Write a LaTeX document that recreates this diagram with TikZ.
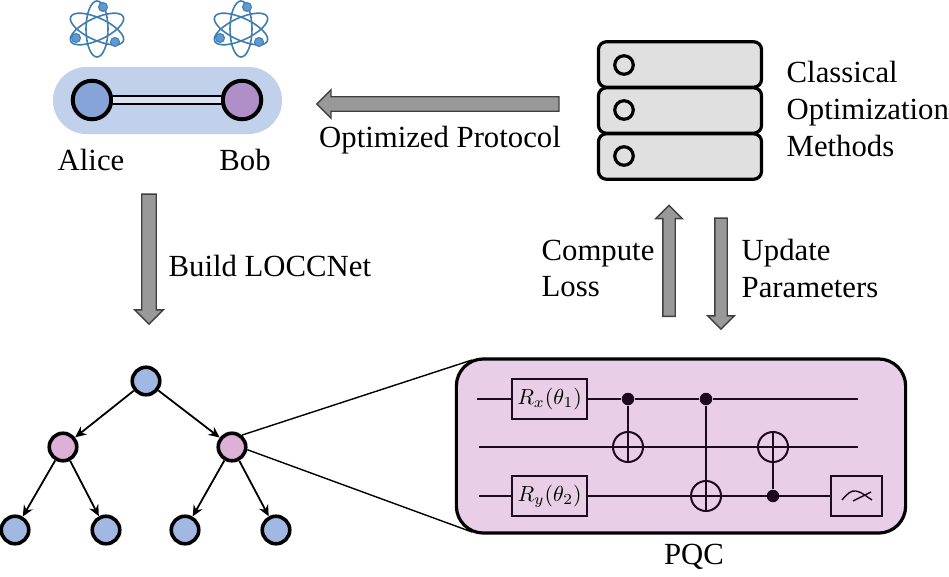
\documentclass[tikz,border=0pt]{standalone}
\usepackage{fontspec}
\setmainfont{Liberation Serif}
\usepackage{amsmath,amssymb}
\usepackage{tikz}
\usetikzlibrary{arrows.meta,shapes.arrows}
\definecolor{pill}{HTML}{C1D1EB}
\definecolor{alicefill}{HTML}{86A4D8}
\definecolor{bobfill}{HTML}{B08FC9}
\definecolor{leaffill}{HTML}{A1B9E2}
\definecolor{midfill}{HTML}{DDB0D8}
\definecolor{pqcfill}{HTML}{E8CFE7}
\definecolor{srvfill}{HTML}{E0E0E0}
\definecolor{atomline}{HTML}{3F7DAF}
\definecolor{atomdot}{HTML}{5C9BD2}
\definecolor{arrowfill}{HTML}{999999}
\definecolor{ink}{HTML}{1E0A1E}
\tikzset{
  lab/.style={font=\fontsize{8.74}{10.5}\selectfont, inner sep=0pt},
  labl/.style={lab, anchor=west, align=left},
  party/.style={circle, draw=black, line width=0.04cm, minimum size=0.385cm, inner sep=0pt},
  vertex/.style={circle, draw=black, line width=0.036cm, minimum size=0.275cm, inner sep=0pt},
  branch/.style={draw=black, line width=0.018cm, -{Stealth[length=0.11cm,width=0.1cm]}},
  zoomline/.style={draw=black, line width=0.014cm},
  srv/.style={draw=black, fill=srvfill, line width=0.032cm, rounded corners=0.08cm, minimum width=1.63cm, minimum height=0.455cm, inner sep=0pt},
  led/.style={circle, draw=black, line width=0.032cm, minimum size=0.185cm, inner sep=0pt},
  fat/.style={single arrow, draw=black!75, fill=arrowfill, line width=0.014cm, inner xsep=0pt, inner ysep=0.065cm, single arrow tip angle=90, single arrow head extend=0.07cm},
  wire/.style={draw=ink, line width=0.02cm},
  gate/.style={draw=ink, fill=pqcfill, line width=0.02cm, minimum width=0.75cm, minimum height=0.39cm, inner sep=0pt},
  ctrl/.style={circle, fill=ink, minimum size=0.125cm, inner sep=0pt},
  targ/.style={circle, draw=ink, line width=0.02cm, minimum size=0.3cm, inner sep=0pt},
  orbit/.style={draw=atomline, line width=0.016cm},
  electron/.style={circle, draw=atomline, fill=atomdot, line width=0.01cm, minimum size=0.09cm, inner sep=0pt},
  atom/.pic={
    \draw[orbit] (0,0) ellipse [x radius=11, y radius=28];
    \draw[orbit,rotate=65] (0,0) ellipse [x radius=11, y radius=29];
    \draw[orbit,rotate=-65] (0,0) ellipse [x radius=11, y radius=29];
    \node[electron] at (6,-22) {};
    \node[electron] at (-21,9) {};
    \node[electron] at (18,13) {};
  },
}
\begin{document}
\begin{tikzpicture}[x=0.01cm,y=-0.01cm]
  \useasboundingbox (0,0) rectangle (949,576);

  \node[fill=pill, rounded corners=0.335cm, minimum width=2.29cm, minimum height=0.67cm, inner sep=0pt] (pair) at (167.5,100.5) {};
  \node[party, fill=alicefill] (alice) at (92,100) {};
  \node[party, fill=bobfill] (bob) at (242,100) {};
  \draw[draw=black, line width=0.02cm, double=pill!60!white, double distance=0.05cm] (alice) -- (bob);
  \pic at (97,29) {atom};
  \pic at (241,29) {atom};
  \node[lab] (alicelab) at (91,160) {Alice};
  \node[lab] (boblab) at (245,160) {Bob};

  \node[srv] (srva) at (680,64.5) {};
  \node[srv] (srvb) at (680,110.5) {};
  \node[srv] (srvc) at (680,156.5) {};
  \node[led] (leda) at (624,65) {};
  \node[led] (ledb) at (624,110) {};
  \node[led] (ledc) at (624,156) {};
  \node[labl] (classical) at (786,109) {Classical\\Optimization\\Methods};

  \node[fat, rotate=180, minimum height=2.42cm] (protocol) at (441.5,104) {};
  \node[lab] (protocollab) at (440,140) {Optimized Protocol};
  \node[fat, rotate=270, minimum height=1.3cm] (build) at (149,255.5) {};
  \node[labl] (buildlab) at (168,266) {Build LOCCNet};
  \node[fat, rotate=90, minimum height=1.11cm, inner ysep=0.055cm] (loss) at (669,264) {};
  \node[labl] (losslab) at (541,268.5) {Compute\\Loss};
  \node[fat, rotate=270, minimum height=1.11cm, inner ysep=0.055cm] (update) at (721,270.5) {};
  \node[labl] (updatelab) at (741,268.5) {Update\\Parameters};

  \node[vertex, fill=leaffill] (root) at (146,381) {};
  \node[vertex, fill=midfill] (midl) at (63,447) {};
  \node[vertex, fill=midfill] (midr) at (232,447) {};
  \node[vertex, fill=leaffill] (leafa) at (15,530) {};
  \node[vertex, fill=leaffill] (leafb) at (106,530) {};
  \node[vertex, fill=leaffill] (leafc) at (185,530) {};
  \node[vertex, fill=leaffill] (leafd) at (276,530) {};
  \draw[branch] (root) -- (midl);
  \draw[branch] (root) -- (midr);
  \draw[branch] (midl) -- (leafa);
  \draw[branch] (midl) -- (leafb);
  \draw[branch] (midr) -- (leafc);
  \draw[branch] (midr) -- (leafd);

  \coordinate (pqctop) at (472,360);
  \coordinate (pqcbot) at (472,532);
  \draw[zoomline] (midr.50) -- (pqctop);
  \draw[zoomline] (midr.-10) -- (pqcbot);
  \node[draw=black, fill=pqcfill, line width=0.032cm, rounded corners=0.27cm, minimum width=4.49cm, minimum height=1.74cm, inner sep=0pt] (pqc) at (681,446) {};
  \node[lab] (pqclab) at (694,557) {PQC};

  \coordinate (wa) at (477,399);
  \coordinate (wb) at (479,447);
  \coordinate (wc) at (479,496);
  \coordinate (ea) at (858,399);
  \coordinate (eb) at (858,447);
  \node[gate] (rx) at (549.5,399) {\scalebox{0.62}{$R_x(\theta_1)$}};
  \node[gate] (ry) at (549.5,496) {\scalebox{0.62}{$R_y(\theta_2)$}};
  \node[gate, minimum width=0.51cm] (meter) at (856.5,496) {};
  \node[ctrl] (ca) at (628,399) {};
  \node[targ] (ta) at (628,447) {};
  \node[ctrl] (cb) at (706,399) {};
  \node[targ] (tb) at (706,496) {};
  \node[targ] (tc) at (773,447) {};
  \node[ctrl] (cc) at (773,496) {};
  \draw[wire] (wa) -- (rx) (rx) -- (ca) -- (cb) -- (ea);
  \draw[wire] (wb) -- (eb);
  \draw[wire] (wc) -- (ry) (ry) -- (meter);
  \draw[wire] (ca) -- (ta.south);
  \draw[wire] (cb) -- (tb.south);
  \draw[wire] (cc) -- (tc.north);
  \draw[wire] (ta.west) -- (ta.east) (tb.west) -- (tb.east) (tc.west) -- (tc.east);
  \draw[wire, line width=0.014cm] (842,500) .. controls (847,494) and (851,490) .. (856,491) .. controls (862,492) and (867,497) .. (872,500);
  \draw[wire, line width=0.014cm] (853,501) -- (871,492);
\end{tikzpicture}
\end{document}
